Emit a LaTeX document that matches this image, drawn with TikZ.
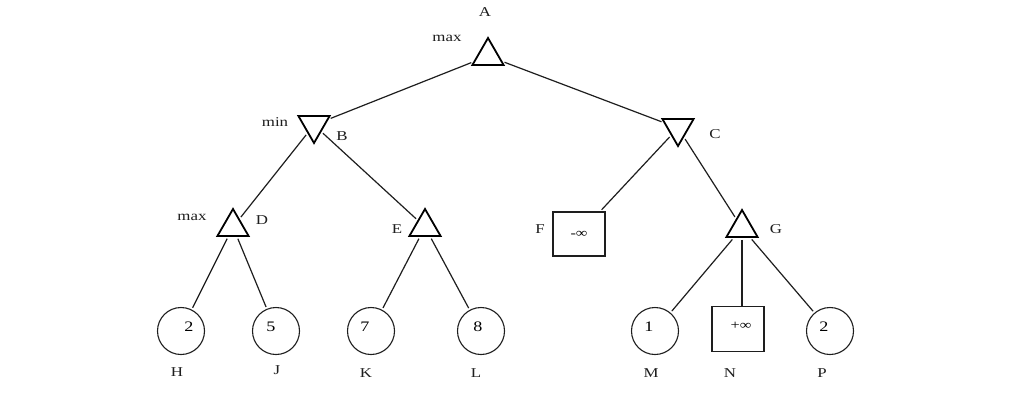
\documentclass[tikz,border=0pt]{standalone}
\usepackage{fontspec}
\setmainfont{Liberation Serif}
\newfontfamily\widefont[FakeStretch=1.25]{Liberation Serif}
\usepackage{xcolor}
\usepackage{tikz}
\usetikzlibrary{shapes.geometric}
\definecolor{ink}{HTML}{1E1E1E}
\tikzset{
  maxnode/.style={regular polygon, regular polygon sides=3, draw=black, line width=1.8pt, minimum size=36pt, inner sep=0pt},
  minnode/.style={maxnode, shape border rotate=180},
  leaf/.style={circle, draw=ink, line width=1.1pt, minimum size=47pt, inner sep=0pt, text depth=9pt, font=\widefont\fontsize{14.5}{14.5}\selectfont},
  boxleaf/.style={rectangle, draw=ink, line width=1.5pt, minimum width=52pt, minimum height=44pt, inner sep=0pt, font=\widefont\fontsize{13}{13}\selectfont},
  edge/.style={draw=ink, line width=1.2pt, shorten <=2pt, shorten >=2pt},
  lbl/.style={text=ink, font=\widefont\fontsize{13.5}{13.5}\selectfont}
}

\begin{document}
\begin{tikzpicture}[x=1pt, y=-1pt]
  \useasboundingbox[fill=white] (0,0) rectangle (1024,410);

  % game tree nodes
  \node[maxnode] (A) at (488,56) {};
  \node[minnode] (B) at (314,125) {};
  \node[minnode] (C) at (678,128) {};
  \node[maxnode] (D) at (233,227) {};
  \node[maxnode] (E) at (425,227) {};
  \node[boxleaf] (F) at (579,234) {-∞};
  \node[maxnode] (G) at (742,228) {};
  \node[leaf] (H) at (181,331) {\hspace*{16pt}2};
  \node[leaf] (J) at (276,331) {5\hspace*{10pt}};
  \node[leaf] (K) at (371,331) {7\hspace*{12pt}};
  \node[leaf] (L) at (481,331) {8\hspace*{6pt}};
  \node[leaf] (M) at (655,331) {1\hspace*{12pt}};
  \node[boxleaf, minimum height=45pt, text depth=7pt] (N) at (738,329) {\hspace*{6pt}+∞};
  \node[leaf] (P) at (830,331) {2\hspace*{12pt}};

  % edges
  \draw[edge] (A) -- (B);
  \draw[edge] (A) -- (C);
  \draw[edge] (B) -- (D);
  \draw[edge] (B) -- (E);
  \draw[edge] (C) -- (F);
  \draw[edge] (C) -- (G);
  \draw[edge] (D) -- (H);
  \draw[edge] (D) -- (J);
  \draw[edge] (E) -- (K);
  \draw[edge] (E) -- (L);
  \draw[edge] (G) -- (M);
  \draw[edge, shorten >=0pt] (G) -- (N.north -| G);
  \draw[edge] (G) -- (P);

  % names and levels
  \node[lbl] (nA) at (485,12) {A};
  \node[lbl] (maxA) at (447,38) {max};
  \node[lbl] (minB) at (275,122) {min};
  \node[lbl] (nB) at (342,136) {B};
  \node[lbl] (nC) at (715,134) {C};
  \node[lbl] (maxD) at (192,217) {max};
  \node[lbl] (nD) at (262,220) {D};
  \node[lbl] (nE) at (397,229) {E};
  \node[lbl] (nF) at (540,229) {F};
  \node[lbl] (nG) at (776,229) {G};
  \node[lbl] (nH) at (177,372) {H};
  \node[lbl] (nJ) at (277,370) {J};
  \node[lbl] (nK) at (366,373) {K};
  \node[lbl] (nL) at (476,373) {L};
  \node[lbl] (nM) at (651,373) {M};
  \node[lbl] (nN) at (730,373) {N};
  \node[lbl] (nP) at (822,373) {P};
\end{tikzpicture}
\end{document}
